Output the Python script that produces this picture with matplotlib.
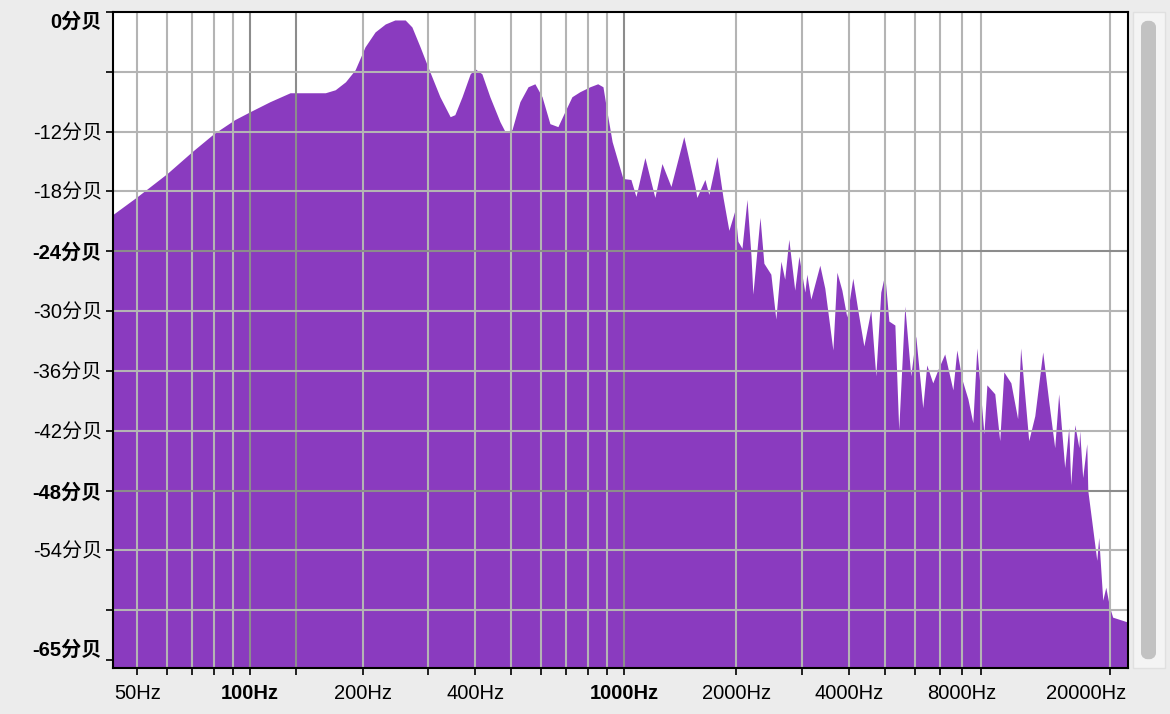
import matplotlib
matplotlib.use('Agg')
import matplotlib.pyplot as plt
from matplotlib.patches import FancyBboxPatch, Rectangle
import numpy as np

plt.rcParams['font.family'] = ['Liberation Sans', 'Noto Sans CJK SC', 'DejaVu Sans']

# spectrum envelope (Hz, dB)
freqs = [43, 50, 60, 70, 80, 91, 100, 113, 128, 159, 169, 180, 191, 203, 216, 230, 244, 260,
         271, 285, 299, 322, 343, 353, 369, 388, 400, 417, 438, 466, 481, 502, 527, 554, 578,
         604, 634, 666, 695, 726, 762, 811, 851, 879, 901, 930, 964, 994,
         1044, 1077, 1138, 1210, 1264, 1336, 1446, 1549, 1567, 1647, 1687, 1774, 1841, 1909,
         1981, 2018, 2069, 2134, 2188, 2213, 2312, 2368, 2472, 2549, 2630, 2692, 2761, 2864,
         2938, 3048, 3085, 3162, 3342, 3446, 3622, 3713, 3828, 3947, 4095, 4223, 4383, 4575,
         4718, 4865, 4985, 5113, 5306, 5433, 5640, 5852, 6034, 6300, 6457, 6700, 6912, 7213,
         7584, 7770, 8014, 8318, 8575, 8790, 9182, 9351, 9817, 10120, 10380, 10840, 11300,
         11510, 12100, 12560, 13190, 13680, 14200, 14550, 15100, 15480, 15670, 16070, 16480,
         16560, 16870, 17300, 17410, 17830, 18400, 18620, 19090, 19450, 19910, 20290, 22300]
db = [-20.3, -18.5, -16.2, -14.0, -12.2, -10.8, -10.0, -9.0, -8.1, -8.1, -7.8, -7.0, -5.8,
      -3.5, -2.0, -1.2, -0.8, -0.8, -1.5, -3.5, -5.5, -8.5, -10.5, -10.3, -8.5, -6.2, -5.7,
      -6.2, -8.5, -11.0, -12.0, -11.8, -9.0, -7.5, -7.2, -8.5, -11.2, -11.5, -10.0, -8.5,
      -8.0, -7.5, -7.2, -7.5, -10.0, -13.0, -15.0, -16.7,
      -16.8, -18.5, -14.6, -18.6, -15.2, -17.5, -12.5, -17.5, -18.6, -16.8, -18.3, -14.5,
      -18.6, -21.9, -19.9, -23.0, -23.7, -18.8, -24.5, -28.3, -20.6, -25.2, -26.3, -30.8,
      -25.0, -26.8, -22.8, -27.9, -24.5, -28.1, -26.3, -28.8, -25.4, -27.7, -33.9, -26.1,
      -27.9, -30.6, -26.7, -29.9, -33.5, -29.9, -36.5, -28.1, -26.3, -31.0, -31.4, -41.9,
      -29.5, -36.5, -32.5, -39.7, -35.4, -37.2, -35.9, -34.3, -37.9, -33.9, -36.8, -38.8,
      -41.2, -33.7, -42.3, -37.4, -38.3, -43.0, -36.1, -37.2, -40.8, -33.7, -43.0, -40.5,
      -34.1, -39.0, -43.7, -38.3, -45.7, -41.7, -47.4, -41.4, -43.7, -42.0, -46.7, -43.3,
      -48.0, -51.0, -55.0, -52.7, -59.0, -57.7, -59.7, -60.7, -61.2]

x_ticks = [50, 100, 200, 400, 1000, 2000, 4000, 8000, 20000]
x_labels = ['50Hz', '100Hz', '200Hz', '400Hz', '1000Hz', '2000Hz', '4000Hz', '8000Hz', '20000Hz']
x_grid = [50, 60, 70, 80, 90, 100, 133, 200, 300, 400, 500, 600, 700, 800, 900, 1000,
          2000, 3000, 4000, 5000, 6000, 7000, 8000, 9000, 20000]
y_ticks = [0, -6, -12, -18, -24, -30, -36, -42, -48, -54, -60, -65]
y_labels = ['0分贝', '', '-12分贝', '-18分贝', '-24分贝', '-30分贝', '-36分贝', '-42分贝',
            '-48分贝', '-54分贝', '', '-65分贝']

W, H = 1170, 714
fig = plt.figure(figsize=(W / 100, H / 100), dpi=100, facecolor='#ececec')
ax = fig.add_axes([113 / W, 1 - 668 / H, (1128 - 113) / W, (668 - 12) / H])
ax.set_facecolor('white')
ax.set_xscale('log')
ax.set_xlim(43, 22300)
ax.set_ylim(-65.8, -0.2)

light, dark = '#b4b4b4', '#8c8c8c'
for f in x_grid:
    ax.axvline(f, color=dark if f in (100, 133, 1000) else light, lw=1.5, zorder=3)
for v in y_ticks[1:-1]:
    ax.axhline(v, color=dark if v in (-24, -48) else light, lw=1.5, zorder=3)

ax.fill_between(freqs, db, -70, color='#8a3bbf', lw=0, zorder=2)

ax.set_xticks(x_grid)
ax.set_xticklabels([''] * len(x_grid))
ax.xaxis.set_minor_locator(matplotlib.ticker.NullLocator())
for f, lab in zip(x_ticks, x_labels):
    ha = 'right' if f == 20000 else 'center'
    ax.text(f if f != 20000 else 22000, -67.4, lab, ha=ha, va='top', fontsize=14.5,
            fontweight='bold' if f in (100, 1000) else 'normal')
ax.set_yticks(y_ticks)
ax.set_yticklabels(y_labels, fontsize=14.5)
for t, v in zip(ax.get_yticklabels(), y_ticks):
    if v in (0, -24, -48, -65):
        t.set_fontweight('bold')
    if v == 0:
        t.set_va('top')
    if v == -65:
        t.set_va('bottom')
ax.tick_params(axis='both', direction='out', length=5, width=1.2, color='black', pad=3)
for s in ax.spines.values():
    s.set_linewidth(1.5)
    s.set_color('black')
    s.set_zorder(5)

# scrollbar on the right
fig.patches.append(Rectangle((1133 / W, 1 - 668 / H), 32 / W, 656 / H, transform=fig.transFigure,
                             facecolor='#f4f4f4', edgecolor='#e0e0e0', lw=1))
fig.patches.append(FancyBboxPatch((1141 / W, 1 - 660 / H), 15 / W, 640 / H,
                                  boxstyle='round,pad=0,rounding_size=0.01',
                                  transform=fig.transFigure, facecolor='#c2c2c2', edgecolor='none'))

fig.savefig('out.png', dpi=100, facecolor=fig.get_facecolor())
